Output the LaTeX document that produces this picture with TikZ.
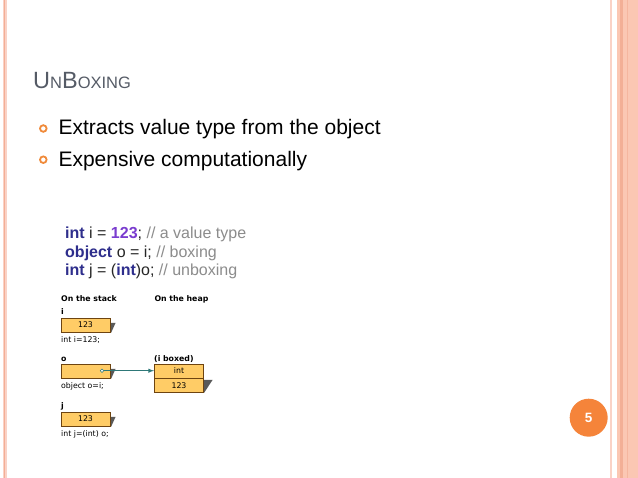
\documentclass[tikz,border=0pt]{standalone}
\usepackage{fontspec}
\setmainfont{Liberation Sans}
\newfontfamily\diagfont{DejaVu Sans}
\definecolor{titlegray}{HTML}{555B66}
\definecolor{bulorange}{HTML}{F08A3A}
\definecolor{codeblue}{HTML}{2E2E8C}
\definecolor{codepurple}{HTML}{7A3CCF}
\definecolor{codegray}{HTML}{8C8C8C}
\definecolor{pageorange}{HTML}{F5843A}
\definecolor{pinklight}{HTML}{FAD2C6}
\definecolor{pinkfill}{HTML}{FBC7B3}
\definecolor{pinkdark}{HTML}{F3AF96}
\definecolor{boxfill}{HTML}{FFCC66}
\definecolor{boxline}{HTML}{6E4410}
\definecolor{arrowteal}{HTML}{2E7878}
\newcommand{\kw}[1]{\textcolor{codeblue}{\bfseries #1}}
\newcommand{\cmt}[1]{\textcolor{codegray}{#1}}
\begin{document}
\begin{tikzpicture}[x=1pt,y=-1pt,inner sep=0pt,
	valbox/.style={draw=boxline, line width=0.9pt, fill=boxfill, minimum width=49pt, minimum height=14pt, font=\diagfont\fontsize{7.8}{8}\selectfont},
	lbl/.style={anchor=base west, font=\diagfont\fontsize{7.8}{8}\selectfont},
	hdr/.style={anchor=base west, font=\diagfont\bfseries\fontsize{7.8}{8}\selectfont},
	shadow/.style={fill=black!65}]
	\useasboundingbox (0,0) rectangle (638,478);
	\fill[white] (0,0) rectangle (638,478);

	% page borders
	\fill[pinklight] (3,0) rectangle (7,478);
	\draw[pinkdark, line width=0.8pt] (4.8,0) -- (4.8,478);
	\fill[pinklight] (610,0) rectangle (612.3,478);
	\fill[pinkfill] (617,0) rectangle (638,478);
	\fill[pinkdark] (619.5,0) rectangle (623,478);
	\fill[pinkdark!70!pinkfill] (626.5,0) rectangle (628.3,478);

	% title and bullets
	\node[anchor=base west, text=titlegray] (title) at (33,89) {\fontsize{23.5}{24}\selectfont U\fontsize{16.5}{17}\selectfont N\fontsize{23.5}{24}\selectfont B\fontsize{16.5}{17}\selectfont OXING};
	\draw[bulorange, line width=1.8pt] (43.3,128.5) circle (3.3);
	\node[anchor=base west, font=\fontsize{21}{24}\selectfont] (bul1) at (58.3,135) {Extracts value type from the object};
	\draw[bulorange, line width=1.8pt] (43.3,159.7) circle (3.3);
	\node[anchor=base west, font=\fontsize{21}{24}\selectfont] (bul2) at (58.3,166.5) {Expensive computationally};

	% code
	\node[anchor=base west, font=\fontsize{16}{18}\selectfont, text=black!85] (code1) at (65,238.3) {\kw{int} i = \textcolor{codepurple}{\bfseries 123}; \cmt{// a value type}};
	\node[anchor=base west, font=\fontsize{16}{18}\selectfont, text=black!85] (code2) at (65,257.2) {\kw{object} o = i; \cmt{// boxing}};
	\node[anchor=base west, font=\fontsize{16}{18}\selectfont, text=black!85] (code3) at (65,276) {\kw{int} j = (\kw{int})o; \cmt{// unboxing}};

	% stack and heap
	\node[hdr] (stackhdr) at (61,301.5) {On the stack};
	\node[hdr] (heaphdr) at (154.3,301.5) {On the heap};

	\node[hdr] (ilbl) at (61,315) {i};
	\fill[shadow] (110,323) -- (115.5,323) -- (111,333) -- (110,333) -- cycle;
	\node[valbox] (boxi) at (85.5,325) {123};
	\node[lbl] (idecl) at (61,342.5) {int i=123;};

	\node[hdr] (olbl) at (61,361.5) {o};
	\fill[shadow] (110,369) -- (115.5,369) -- (111,379) -- (110,379) -- cycle;
	\node[valbox] (boxo) at (85.5,371) {};
	\node[lbl] (odecl) at (61,388.5) {object o=i;};

	\node[hdr] (boxedlbl) at (154,361.5) {(i boxed)};
	\fill[shadow] (203,380) -- (212.5,380) -- (204,393) -- (203,393) -- cycle;
	\node[valbox] (heapint) at (179,371) {int};
	\node[valbox, anchor=north] (heapval) at (heapint.south) {123};

	\node[hdr] (jlbl) at (61,409) {j};
	\fill[shadow] (110,417) -- (115.5,417) -- (111,427) -- (110,427) -- cycle;
	\node[valbox] (boxj) at (85.5,419) {123};
	\node[lbl] (jdecl) at (61,436.5) {int j=(int) o;};

	\node[circle, draw=arrowteal, fill=white, line width=0.6pt, minimum size=3.5pt] (odot) at (102,370.7) {};
	\draw[arrowteal, line width=1pt, -latex] (odot) -- (heapint.west |- odot);

	% page number
	\node[circle, fill=pageorange, minimum size=38pt, text=white, font=\bfseries\fontsize{13.5}{14}\selectfont] (pgnum) at (588.7,417.7) {5};
\end{tikzpicture}
\end{document}
